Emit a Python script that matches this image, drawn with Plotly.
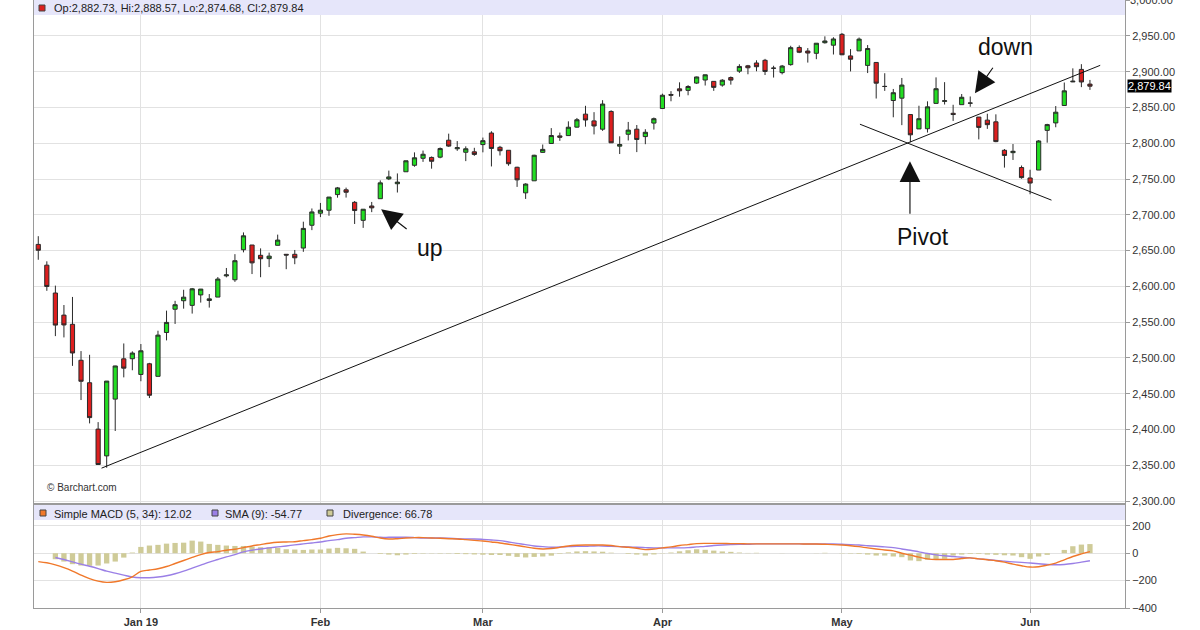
import plotly.graph_objects as go

# ---------------- data ----------------
dates = [
    "2018-12-13", "2018-12-14", "2018-12-17", "2018-12-18", "2018-12-19", "2018-12-20", "2018-12-21",
    "2018-12-24", "2018-12-26", "2018-12-27", "2018-12-28", "2018-12-31",
    "2019-01-02", "2019-01-03", "2019-01-04", "2019-01-07", "2019-01-08", "2019-01-09", "2019-01-10",
    "2019-01-11", "2019-01-14", "2019-01-15", "2019-01-16", "2019-01-17", "2019-01-18", "2019-01-22",
    "2019-01-23", "2019-01-24", "2019-01-25", "2019-01-28", "2019-01-29", "2019-01-30", "2019-01-31",
    "2019-02-01", "2019-02-04", "2019-02-05", "2019-02-06", "2019-02-07", "2019-02-08", "2019-02-11",
    "2019-02-12", "2019-02-13", "2019-02-14", "2019-02-15", "2019-02-19", "2019-02-20", "2019-02-21",
    "2019-02-22", "2019-02-25", "2019-02-26", "2019-02-27", "2019-02-28",
    "2019-03-01", "2019-03-04", "2019-03-05", "2019-03-06", "2019-03-07", "2019-03-08", "2019-03-11",
    "2019-03-12", "2019-03-13", "2019-03-14", "2019-03-15", "2019-03-18", "2019-03-19", "2019-03-20",
    "2019-03-21", "2019-03-22", "2019-03-25", "2019-03-26", "2019-03-27", "2019-03-28", "2019-03-29",
    "2019-04-01", "2019-04-02", "2019-04-03", "2019-04-04", "2019-04-05", "2019-04-08", "2019-04-09",
    "2019-04-10", "2019-04-11", "2019-04-12", "2019-04-15", "2019-04-16", "2019-04-17", "2019-04-18",
    "2019-04-22", "2019-04-23", "2019-04-24", "2019-04-25", "2019-04-26", "2019-04-29", "2019-04-30",
    "2019-05-01", "2019-05-02", "2019-05-03", "2019-05-06", "2019-05-07", "2019-05-08", "2019-05-09",
    "2019-05-10", "2019-05-13", "2019-05-14", "2019-05-15", "2019-05-16", "2019-05-17", "2019-05-20",
    "2019-05-21", "2019-05-22", "2019-05-23", "2019-05-24", "2019-05-28", "2019-05-29", "2019-05-30",
    "2019-05-31",
    "2019-06-03", "2019-06-04", "2019-06-05", "2019-06-06", "2019-06-07", "2019-06-10", "2019-06-11",
    "2019-06-12",
]

opens = [
    2658.70, 2629.68, 2590.75, 2559.90, 2547.05, 2496.77, 2465.38, 2400.56, 2363.12, 2442.50, 2498.77, 2498.94,
    2476.96, 2491.92, 2474.33, 2535.61, 2568.11, 2580.00, 2573.51, 2588.11, 2580.31, 2585.10, 2614.75, 2609.28,
    2651.27, 2657.88, 2643.48, 2638.84, 2657.44, 2644.89, 2644.89, 2653.62, 2685.49,
    2702.32, 2706.49, 2728.34, 2735.05, 2717.53, 2692.36, 2712.40, 2722.61, 2750.30, 2743.50, 2760.24, 2769.28,
    2779.05, 2780.24, 2780.67, 2804.35, 2792.36, 2787.50, 2788.11,
    2798.22, 2814.37, 2794.41, 2790.27, 2766.53, 2730.79, 2747.61, 2787.34, 2799.78, 2810.38, 2810.79, 2822.61,
    2840.76, 2831.34, 2819.72, 2844.52, 2796.01, 2812.66, 2819.72, 2809.40, 2828.27,
    2848.63, 2868.24, 2876.09, 2873.99, 2884.16, 2888.46, 2886.58, 2881.37, 2891.92, 2900.86, 2908.32, 2912.26,
    2916.04, 2904.81, 2898.78, 2909.99, 2934.00, 2928.99, 2925.81, 2940.58, 2937.14,
    2952.33, 2922.16, 2929.21, 2908.89, 2913.03, 2879.61, 2859.84, 2863.10, 2840.19, 2820.12, 2820.38, 2855.80,
    2858.60, 2841.94, 2854.02, 2856.06, 2836.70, 2832.41, 2830.03, 2790.25, 2786.94, 2766.15,
    2751.53, 2762.64, 2818.09, 2828.51, 2852.87, 2885.83, 2903.27, 2882.73,
]

highs = [
    2670.19, 2635.07, 2601.13, 2573.99, 2585.29, 2509.63, 2504.41, 2410.34, 2467.76, 2489.10, 2520.27, 2509.24,
    2519.49, 2493.14, 2538.07, 2566.16, 2579.82, 2595.32, 2597.82, 2596.27, 2589.32, 2613.08, 2625.76, 2645.06,
    2675.47, 2657.88, 2653.19, 2647.20, 2672.38, 2644.89, 2650.93, 2690.44, 2708.95,
    2716.66, 2724.99, 2738.98, 2738.08, 2719.32, 2708.07, 2718.05, 2748.19, 2761.85, 2757.90, 2775.66, 2787.33,
    2789.88, 2781.58, 2794.20, 2813.49, 2803.12, 2795.76, 2793.73,
    2808.02, 2816.88, 2796.44, 2790.27, 2767.25, 2744.13, 2784.00, 2798.32, 2821.24, 2815.00, 2830.73, 2835.41,
    2852.42, 2843.54, 2860.31, 2846.16, 2809.79, 2829.87, 2825.56, 2819.71, 2836.03,
    2869.40, 2872.90, 2885.25, 2881.28, 2893.24, 2895.95, 2886.88, 2889.71, 2893.42, 2910.54, 2909.60, 2916.06,
    2918.00, 2908.40, 2909.51, 2936.31, 2936.83, 2933.10, 2939.88, 2949.52, 2948.22,
    2954.13, 2931.68, 2947.85, 2937.32, 2913.03, 2897.96, 2875.97, 2891.31, 2840.19, 2852.54, 2858.68, 2892.15,
    2885.48, 2853.86, 2868.88, 2865.47, 2836.70, 2841.36, 2840.51, 2792.03, 2799.00, 2768.98,
    2763.07, 2804.49, 2827.28, 2852.10, 2884.97, 2904.77, 2910.61, 2888.57,
]

lows = [
    2637.27, 2593.84, 2530.54, 2528.71, 2488.96, 2441.18, 2408.55, 2351.10, 2346.58, 2397.94, 2472.89, 2482.82,
    2467.47, 2443.96, 2474.33, 2524.56, 2547.56, 2568.89, 2562.02, 2577.40, 2570.41, 2585.10, 2612.68, 2606.36,
    2647.58, 2617.27, 2612.86, 2627.01, 2657.33, 2624.06, 2631.05, 2648.34, 2678.65,
    2696.88, 2698.75, 2724.03, 2724.15, 2687.26, 2681.83, 2703.79, 2722.61, 2748.63, 2731.23, 2760.24, 2767.29,
    2774.06, 2764.55, 2779.11, 2794.99, 2789.47, 2775.13, 2782.51,
    2787.38, 2767.66, 2782.97, 2768.69, 2739.09, 2722.27, 2747.61, 2786.73, 2799.78, 2803.46, 2810.79, 2821.99,
    2823.27, 2812.43, 2817.38, 2800.47, 2785.02, 2803.99, 2787.72, 2798.77, 2819.23,
    2848.63, 2858.75, 2865.17, 2867.14, 2882.99, 2880.78, 2873.33, 2879.13, 2881.99, 2898.37, 2896.48, 2900.71,
    2895.45, 2891.90, 2896.35, 2908.53, 2926.05, 2912.84, 2917.56, 2939.35, 2924.11,
    2923.36, 2900.50, 2929.21, 2898.21, 2862.60, 2873.28, 2836.40, 2825.39, 2801.43, 2820.12, 2815.08, 2855.80,
    2854.23, 2831.29, 2854.02, 2851.11, 2805.49, 2820.19, 2801.58, 2766.06, 2776.74, 2750.52,
    2728.81, 2762.64, 2800.92, 2822.45, 2852.87, 2885.51, 2878.53, 2874.68,
]

closes = [
    2650.54, 2599.95, 2545.94, 2546.16, 2506.96, 2467.42, 2416.62, 2351.10, 2467.70, 2488.83, 2485.74, 2506.85,
    2510.03, 2447.89, 2531.94, 2549.69, 2574.41, 2584.96, 2596.64, 2596.26, 2582.61, 2610.30, 2616.10, 2635.96,
    2670.71, 2632.90, 2638.70, 2642.33, 2664.76, 2643.85, 2640.00, 2681.05, 2704.10,
    2706.53, 2724.87, 2737.70, 2731.61, 2706.05, 2707.88, 2709.80, 2744.73, 2753.03, 2745.73, 2775.60, 2779.76,
    2784.70, 2774.88, 2792.67, 2796.11, 2793.90, 2792.38, 2784.49,
    2803.69, 2792.81, 2789.65, 2771.45, 2748.93, 2743.07, 2783.30, 2791.52, 2810.92, 2808.48, 2822.48, 2832.94,
    2832.57, 2824.23, 2854.88, 2800.71, 2798.36, 2818.46, 2805.37, 2815.44, 2834.40,
    2867.19, 2867.24, 2873.40, 2879.39, 2892.74, 2895.77, 2878.20, 2888.21, 2888.32, 2907.41, 2905.58, 2907.06,
    2900.45, 2905.03, 2907.97, 2933.68, 2927.25, 2926.17, 2939.88, 2943.03, 2945.83,
    2923.73, 2917.52, 2945.64, 2932.47, 2884.05, 2879.42, 2870.72, 2881.40, 2811.87, 2834.41, 2850.96, 2876.32,
    2859.53, 2840.23, 2864.36, 2856.27, 2822.24, 2826.06, 2802.39, 2783.02, 2788.86, 2752.06,
    2744.45, 2803.27, 2826.15, 2843.49, 2873.34, 2886.73, 2885.72, 2879.84,
]

# Simple MACD (5, 34), its SMA (9) and the divergence
macd = [
    -61, -70, -85, -105, -130, -160, -186, -204, -213, -208, -194, -172,
    -133, -123, -113, -97, -75, -53, -31, -10, 5, 12, 22, 29, 41, 53, 63, 73, 80, 82, 84, 92, 99,
    109, 126, 136, 141, 138, 133, 124, 111, 104, 106, 111, 114, 114, 111, 109, 106, 104, 99,
    94, 89, 82, 75, 65, 56, 46, 36, 31, 34, 43, 53, 58, 60, 60, 60, 56, 48, 43, 36, 26, 31,
    39, 46, 56, 63, 70, 72, 72, 72, 70, 70, 68, 68, 68, 68, 68, 68, 68, 67, 67, 65, 63,
    60, 55, 48, 39, 31, 24, 17, 0, -14, -29, -41, -46, -46, -46, -39, -34, -41, -48, -55, -65, -80, -92,
    -101, -99, -87, -72, -48, -24, -5, 12.02,
]

signal = [
    None, None, -31, -46, -63, -80, -95, -112, -131, -145, -160, -174,
    -179, -179, -174, -165, -150, -131, -109, -87, -65, -46, -27, -10, 10, 22, 31, 39, 46, 53, 61, 68, 75,
    82, 92, 99, 109, 114, 119, 119, 116, 116, 116, 116, 114, 111, 111, 111, 109, 106, 104,
    104, 101, 97, 92, 82, 72, 63, 53, 48, 43, 46, 48, 50, 50, 53, 53, 50, 48, 46, 43, 41, 39,
    39, 39, 39, 41, 46, 50, 56, 60, 63, 65, 65, 68, 68, 68, 68, 68, 68, 67, 67, 67, 67,
    65, 63, 60, 55, 51, 46, 41, 31, 22, 10, -2, -12, -19, -24, -29, -34, -41, -46, -53, -58, -63, -67,
    -72, -77, -82, -84, -82, -75, -65, -54.77,
]

divergence = [
    None, None, -44, -61, -80, -90, -92, -90, -75, -61, -32, 5,
    46, 56, 61, 70, 75, 77, 92, 85, 68, 61, 56, 53, 53, 48, 44, 44, 39, 29, 27, 24, 27,
    27, 34, 39, 36, 32, 12, 0, -5, -10, -15, -10, -5, -3, -2, -3, -3, -6, -7,
    -9, -11, -13, -13, -19, -27, -31, -27, -24, -18, -4, 6, 13, 15, 13, 11, 4, 0, -5, -10, -17, -9,
    -2, 5, 14, 22, 29, 25, 19, 13, 10, 5, 2, 3, 0, 0, 1, 0, 0, 0, 1, 3, 0,
    -2, -3, -5, -10, -17, -17, -24, -29, -53, -58, -48, -48, -41, -17, -10, -5, -5, -10, -12, -15, -17, -29,
    -41, -24, -12, 0, 24, 51, 63, 66.78,
]

month_ticks = ["2019-01-02", "2019-02-01", "2019-03-01", "2019-04-01", "2019-05-01", "2019-06-03"]
month_labels = ["Jan 19", "Feb", "Mar", "Apr", "May", "Jun"]
price_ticks = [2300, 2350, 2400, 2450, 2500, 2550, 2600, 2650, 2700, 2750, 2800, 2850, 2900, 2950, 3000]
macd_ticks = [-400, -200, 0, 200]

last_label = "Op:2,882.73, Hi:2,888.57, Lo:2,874.68, Cl:2,879.84"
last_close_text = "2,879.84"
top_tick_text = "3,000.00"

# ---------------- styling ----------------
FONT = "Liberation Sans, Arial, sans-serif"
GREEN = "#22dd22"
RED = "#dd1f1f"
WICK = "#2a2a2a"
GRID = "#e2e2e2"
AXIS = "#9a9a9a"
BAND = "#e6e6fa"
ORANGE = "#f0782a"
PURPLE = "#9a7fe6"
KHAKI = "#cfcb98"

W, H = 1200, 630
ML, MR, MT, MB = 34, 75, 0, 22
PW, PH = W - ML - MR, H - MT - MB
MAIN_BOTTOM = 503     # pixel where the price panel ends
MACD_TOP = 505        # pixel where the MACD panel starts
PX_PER_PT = 0.7155
Y_TOP = 3000.3


def px(x):
    return (x - ML) / PW


def py(y):
    return (H - MB - y) / PH


fig = go.Figure()

fig.add_trace(go.Candlestick(
    x=dates, open=opens, high=highs, low=lows, close=closes,
    increasing=dict(fillcolor=GREEN, line=dict(color=WICK, width=1)),
    decreasing=dict(fillcolor=RED, line=dict(color=WICK, width=1)),
    whiskerwidth=0, showlegend=False, hoverinfo="skip",
    xaxis="x", yaxis="y",
))

fig.add_trace(go.Bar(
    x=dates, y=divergence, marker=dict(color=KHAKI, line=dict(width=0)),
    width=0.62, showlegend=False, hoverinfo="skip", xaxis="x2", yaxis="y2",
))
fig.add_trace(go.Scatter(
    x=dates, y=signal, mode="lines", line=dict(color=PURPLE, width=1.4, shape="spline"),
    showlegend=False, hoverinfo="skip", xaxis="x2", yaxis="y2", connectgaps=False,
))
fig.add_trace(go.Scatter(
    x=dates, y=macd, mode="lines", line=dict(color=ORANGE, width=1.4, shape="spline"),
    showlegend=False, hoverinfo="skip", xaxis="x2", yaxis="y2",
))

x_range = [-0.5, 127.1]

common_x = dict(
    type="category", categoryorder="array", categoryarray=dates, range=x_range,
    tickmode="array", tickvals=month_ticks, showgrid=True, gridcolor=GRID, gridwidth=1,
    showline=True, linecolor=AXIS, linewidth=1, mirror=True, zeroline=False,
)

fig.update_layout(
    width=W, height=H,
    margin=dict(l=ML, r=MR, t=MT, b=MB, autoexpand=False),
    paper_bgcolor="white", plot_bgcolor="white",
    font=dict(family=FONT, size=11, color="#333"),
    bargap=0.3,
    xaxis=dict(**common_x, anchor="y", showticklabels=False, ticks="",
               rangeslider=dict(visible=False)),
    xaxis2=dict(**common_x, anchor="y2", matches="x", ticktext=month_labels,
                ticks="outside", ticklen=4, tickcolor=AXIS,
                tickfont=dict(family=FONT, size=11, color="#333", weight="bold")),
    yaxis=dict(
        domain=[py(MAIN_BOTTOM), 1], range=[Y_TOP - MAIN_BOTTOM / PX_PER_PT, Y_TOP],
        side="right", tickmode="array", tickvals=price_ticks, tickformat=",.2f",
        ticks="outside", ticklen=4, tickcolor=AXIS,
        showgrid=True, gridcolor=GRID, zeroline=False,
        showline=True, linecolor=AXIS, mirror=True,
        tickfont=dict(family=FONT, size=11, color="#333"),
    ),
    yaxis2=dict(
        domain=[0, py(MACD_TOP)], range=[-400, 352],
        side="right", tickmode="array", tickvals=macd_ticks,
        ticks="outside", ticklen=4, tickcolor=AXIS,
        showgrid=True, gridcolor=GRID, zeroline=False,
        showline=True, linecolor=AXIS, mirror=True,
        tickfont=dict(family=FONT, size=11, color="#333"),
    ),
)

shapes = []
# header bands
shapes.append(dict(type="rect", xref="x domain", yref="y domain", x0=0, x1=1,
                   y0=1 - 15 / MAIN_BOTTOM, y1=1, fillcolor=BAND, line=dict(width=0), layer="above"))
shapes.append(dict(type="rect", xref="x2 domain", yref="y2 domain", x0=0, x1=1,
                   y0=1 - 15 / (H - MB - MACD_TOP), y1=1, fillcolor=BAND, line=dict(width=0), layer="above"))
# legend squares
for (x0, y0, size, col) in [(39, 5, 6, RED), (40, 510, 6, ORANGE), (212, 510, 6, PURPLE), (327, 510, 6, KHAKI)]:
    shapes.append(dict(type="rect", xref="paper", yref="paper",
                       x0=px(x0), x1=px(x0 + size), y0=py(y0 + size), y1=py(y0),
                       fillcolor=col, line=dict(color="#444", width=1), layer="above"))
# trend lines (category index on x, price on y)
shapes.append(dict(type="line", xref="x", yref="y", x0=7.4, y0=2346, x1=124.2, y1=2909,
                   line=dict(color="#111", width=1)))
shapes.append(dict(type="line", xref="x", yref="y", x0=96.1, y0=2826.7, x1=118.5, y1=2720.6,
                   line=dict(color="#111", width=1)))
fig.update_layout(shapes=shapes)

ann = []
ann.append(dict(xref="paper", yref="paper", x=px(52), y=py(8.3), text=last_label,
                showarrow=False, xanchor="left", yanchor="middle",
                font=dict(family=FONT, size=11, color="#222")))
for x0, txt in [(52, "Simple MACD (5, 34): 12.02"), (223, "SMA (9): -54.77"), (341, "Divergence: 66.78")]:
    ann.append(dict(xref="paper", yref="paper", x=px(x0), y=py(513.5), text=txt,
                    showarrow=False, xanchor="left", yanchor="middle",
                    font=dict(family=FONT, size=11, color="#222")))
ann.append(dict(xref="paper", yref="paper", x=px(45), y=py(487), text="© Barchart.com",
                showarrow=False, xanchor="left", yanchor="middle",
                font=dict(family=FONT, size=10, color="#333")))
# top tick label, half cut by the top edge as in the original
ann.append(dict(xref="paper", yref="y", x=px(1129), y=price_ticks[-1], text=top_tick_text,
                showarrow=False, xanchor="left", yanchor="middle", borderpad=0,
                font=dict(family=FONT, size=11, color="#333")))
# current price box
ann.append(dict(xref="paper", yref="y", x=px(1127), y=closes[-1], text=last_close_text,
                showarrow=False, xanchor="left", yanchor="middle", bgcolor="#000",
                borderpad=0, font=dict(family=FONT, size=11, color="#fff")))
# arrows
for (xi, yp, ax, ay) in [(40.1, 2708, 27, 21), (109.55, 2870, 19, -27), (101.95, 2775, 0, 54)]:
    ann.append(dict(xref="x", yref="y", x=xi, y=yp, ax=ax, ay=ay, text="",
                    showarrow=True, arrowhead=2, arrowsize=3.6, arrowwidth=1.15,
                    arrowcolor="#111", standoff=0, startstandoff=0))
# labels
for (x0, y0, txt) in [(430, 248, "up"), (1005, 47, "down"), (923, 237, "Pivot")]:
    ann.append(dict(xref="paper", yref="paper", x=px(x0), y=py(y0), text=txt,
                    showarrow=False, xanchor="center", yanchor="middle",
                    font=dict(family=FONT, size=23, color="#111")))
fig.update_layout(annotations=ann)

fig.write_html(
    "out.html",
    config={"displayModeBar": False, "staticPlot": True},
    post_script="document.body.style.margin='0';document.body.style.overflow='hidden';",
)
